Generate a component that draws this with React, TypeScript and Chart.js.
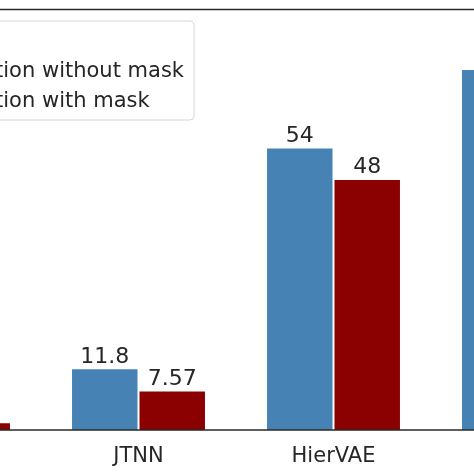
import React, { useEffect, useRef } from "react";
import { Chart, registerables } from "chart.js";

Chart.register(...registerables);

// ---- data ----
const categories: string[] = ["", "JTNN", "HierVAE", ""];
const withoutMask: (number | null)[] = [null, 11.8, 54, 69];
const withMask: (number | null)[] = [1.5, 7.57, 48, null];
const seriesLabels: string[] = ["Generation without mask", "Generation with mask"];
const seriesColors: string[] = ["#4682B4", "#8B0000"];
const yMax = 80.4;

// ---- layout (page is a crop of a wider figure) ----
const CANVAS_LEFT = -154;
const CANVAS_W = 780;
const CANVAS_H = 474;
const TEXT = "#262626";
const FONT = '"DejaVu Sans", sans-serif';

const fmt = (v: number) => Number(v.toPrecision(3)).toString();

const decorPlugin = {
  id: "decor",
  afterDatasetsDraw(chart: any) {
    const { ctx, chartArea } = chart;
    const xScale = chart.scales.x;
    ctx.save();

    // value labels
    ctx.font = `22px ${FONT}`;
    ctx.fillStyle = TEXT;
    ctx.textAlign = "center";
    ctx.textBaseline = "alphabetic";
    chart.data.datasets.forEach((ds: any, di: number) => {
      const meta = chart.getDatasetMeta(di);
      meta.data.forEach((bar: any, i: number) => {
        const v = ds.data[i];
        if (v === null || v === undefined) return;
        ctx.fillText(fmt(v), bar.x, bar.y - 5.5);
      });
    });

    // spines
    ctx.strokeStyle = "#2a2a2a";
    ctx.lineWidth = 1.4;
    ctx.beginPath();
    ctx.moveTo(0, chartArea.top);
    ctx.lineTo(CANVAS_W, chartArea.top);
    ctx.moveTo(0, chartArea.bottom);
    ctx.lineTo(CANVAS_W, chartArea.bottom);
    ctx.stroke();

    // category labels
    ctx.font = `21px ${FONT}`;
    ctx.fillStyle = TEXT;
    categories.forEach((c, i) => {
      if (!c) return;
      const x = xScale.getPixelForValue(i);
      ctx.fillText(c, x, chartArea.bottom + 32);
    });

    // legend
    const off = -CANVAS_LEFT;
    const boxLeft = -140 + off;
    const boxRight = 194 + off;
    const boxTop = 21;
    const boxBottom = 120;
    ctx.beginPath();
    ctx.roundRect(boxLeft, boxTop, boxRight - boxLeft, boxBottom - boxTop, 4);
    ctx.fillStyle = "rgba(255,255,255,0.8)";
    ctx.fill();
    ctx.strokeStyle = "#d6d6d6";
    ctx.lineWidth = 1;
    ctx.stroke();

    ctx.font = `21px ${FONT}`;
    ctx.textAlign = "left";
    const maxW = Math.max(...seriesLabels.map((s) => ctx.measureText(s).width));
    const textX = 184 + off - maxW;
    const baselines = [77, 107];
    seriesLabels.forEach((s, i) => {
      ctx.fillStyle = seriesColors[i];
      ctx.fillRect(textX - 52, baselines[i] - 14, 40, 14);
      ctx.fillStyle = TEXT;
      ctx.fillText(s, textX, baselines[i]);
    });

    ctx.restore();
  },
};

export default function App() {
  const ref = useRef<HTMLCanvasElement | null>(null);

  useEffect(() => {
    if (!ref.current) return;
    const chart = new Chart(ref.current, {
      type: "bar",
      data: {
        labels: categories,
        datasets: [
          {
            label: seriesLabels[0],
            data: withoutMask,
            backgroundColor: seriesColors[0],
            borderColor: "#ffffff",
            borderWidth: 1,
            categoryPercentage: 0.692,
            barPercentage: 1,
          },
          {
            label: seriesLabels[1],
            data: withMask,
            backgroundColor: seriesColors[1],
            borderColor: "#ffffff",
            borderWidth: 1,
            categoryPercentage: 0.692,
            barPercentage: 1,
          },
        ],
      },
      options: {
        responsive: false,
        devicePixelRatio: 1,
        animation: false,
        layout: { padding: { top: 9.5, bottom: 44, left: 0, right: 0 } },
        scales: {
          x: { display: false, offset: true, grid: { display: false } },
          y: { display: false, min: 0, max: yMax, grid: { display: false } },
        },
        plugins: {
          legend: { display: false },
          tooltip: { enabled: false },
        },
      },
      plugins: [decorPlugin],
    });
    return () => chart.destroy();
  }, []);

  return (
    <div
      style={{
        position: "fixed",
        left: 0,
        top: 0,
        width: 474,
        height: 474,
        overflow: "hidden",
        background: "#ffffff",
      }}
    >
      <canvas
        ref={ref}
        width={CANVAS_W}
        height={CANVAS_H}
        style={{
          position: "absolute",
          left: CANVAS_LEFT,
          top: 0,
          width: CANVAS_W,
          height: CANVAS_H,
          display: "block",
        }}
      />
    </div>
  );
}
